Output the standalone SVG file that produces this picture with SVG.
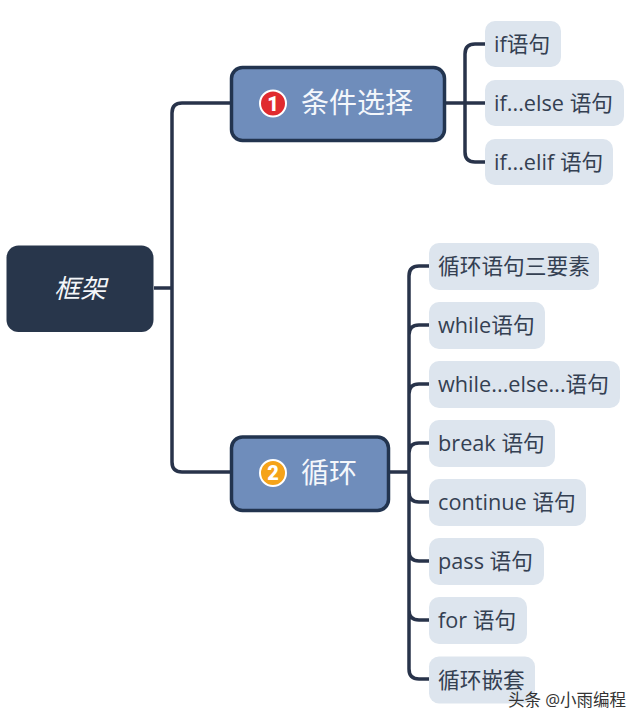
<svg xmlns="http://www.w3.org/2000/svg" width="640" height="724" viewBox="0 0 640 724">
<style>
text{font-family:"Open Sans","Noto Sans CJK SC",sans-serif}
.c{fill:none;stroke:#28334a;stroke-width:3.500}
.l{fill:#dde5ee}
.lt{font-size:21.700px;fill:#344052}
.b{fill:#6f8dbb;stroke:#22344f;stroke-width:3.500}
.bt{font-size:28px;fill:#f4f7fb}
.n{font-family:"Roboto",sans-serif;font-weight:900;font-size:20px;fill:#fff;text-anchor:middle}
</style>
<rect width="640" height="724" fill="#fff"/>
<g id="connectors">
<path class="c" d="M154 288H172M231 103H182Q172 103 172 113V462Q172 472 182 472H231"/>
<path class="c" d="M445 103H485M485 44H475Q465 44 465 54V152Q465 162 475 162H485"/>
<path class="c" d="M389 472H409M429 266H419Q409 266 409 276V669Q409 679 419 679H429M409 335Q409 325 419 325H429M409 394Q409 384 419 384H429M409 453Q409 443 419 443H429M409 492Q409 502 419 502H429M409 551Q409 561 419 561H429M409 610Q409 620 419 620H429"/>
</g>
<g id="root"><rect x="6.500" y="245.500" width="147" height="86.500" rx="12" fill="#28364b"/><text x="80" y="298" font-size="26" font-style="italic" fill="#f4f6f9" text-anchor="middle">框架</text></g>
<g id="branch1"><rect class="b" x="231.500" y="67.500" width="213" height="73" rx="11"/><circle cx="273" cy="103.500" r="13" fill="#e02a2e" stroke="#fff" stroke-width="2"/><text class="n" x="273" y="110.500">1</text><text class="bt" x="301" y="113">条件选择</text></g>
<g id="branch2"><rect class="b" x="231.500" y="437" width="157" height="73.500" rx="11"/><circle cx="273" cy="473" r="13" fill="#f5a31a" stroke="#fff" stroke-width="2"/><text class="n" x="273" y="480">2</text><text class="bt" x="301" y="482.500">循环</text></g>
<g id="leaf1"><rect class="l" x="485" y="21" width="76" height="46" rx="10"/><text class="lt" x="494" y="52">if语句</text></g>
<g id="leaf2"><rect class="l" x="485" y="80" width="139" height="46" rx="10"/><text class="lt" x="494" y="111">if...else 语句</text></g>
<g id="leaf3"><rect class="l" x="485" y="139" width="128" height="46" rx="10"/><text class="lt" x="494" y="170">if...elif 语句</text></g>
<g id="leaf4"><rect class="l" x="429" y="243" width="170" height="47" rx="10"/><text class="lt" x="438" y="274">循环语句三要素</text></g>
<g id="leaf5"><rect class="l" x="429" y="302" width="116" height="47" rx="10"/><text class="lt" x="438" y="333">while语句</text></g>
<g id="leaf6"><rect class="l" x="429" y="361" width="191" height="47" rx="10"/><text class="lt" x="438" y="392">while...else...语句</text></g>
<g id="leaf7"><rect class="l" x="429" y="420" width="126" height="47" rx="10"/><text class="lt" x="438" y="451">break 语句</text></g>
<g id="leaf8"><rect class="l" x="429" y="479" width="157" height="47" rx="10"/><text class="lt" x="438" y="510">continue 语句</text></g>
<g id="leaf9"><rect class="l" x="429" y="538" width="115" height="47" rx="10"/><text class="lt" x="438" y="569">pass 语句</text></g>
<g id="leaf10"><rect class="l" x="429" y="597" width="98" height="47" rx="10"/><text class="lt" x="438" y="628">for 语句</text></g>
<g id="leaf11"><rect class="l" x="429" y="656.500" width="106" height="47" rx="10"/><text class="lt" x="438" y="687.500">循环嵌套</text></g>
<text x="508" y="706" font-size="16.500" fill="#333">头条 @小雨编程</text>
</svg>
